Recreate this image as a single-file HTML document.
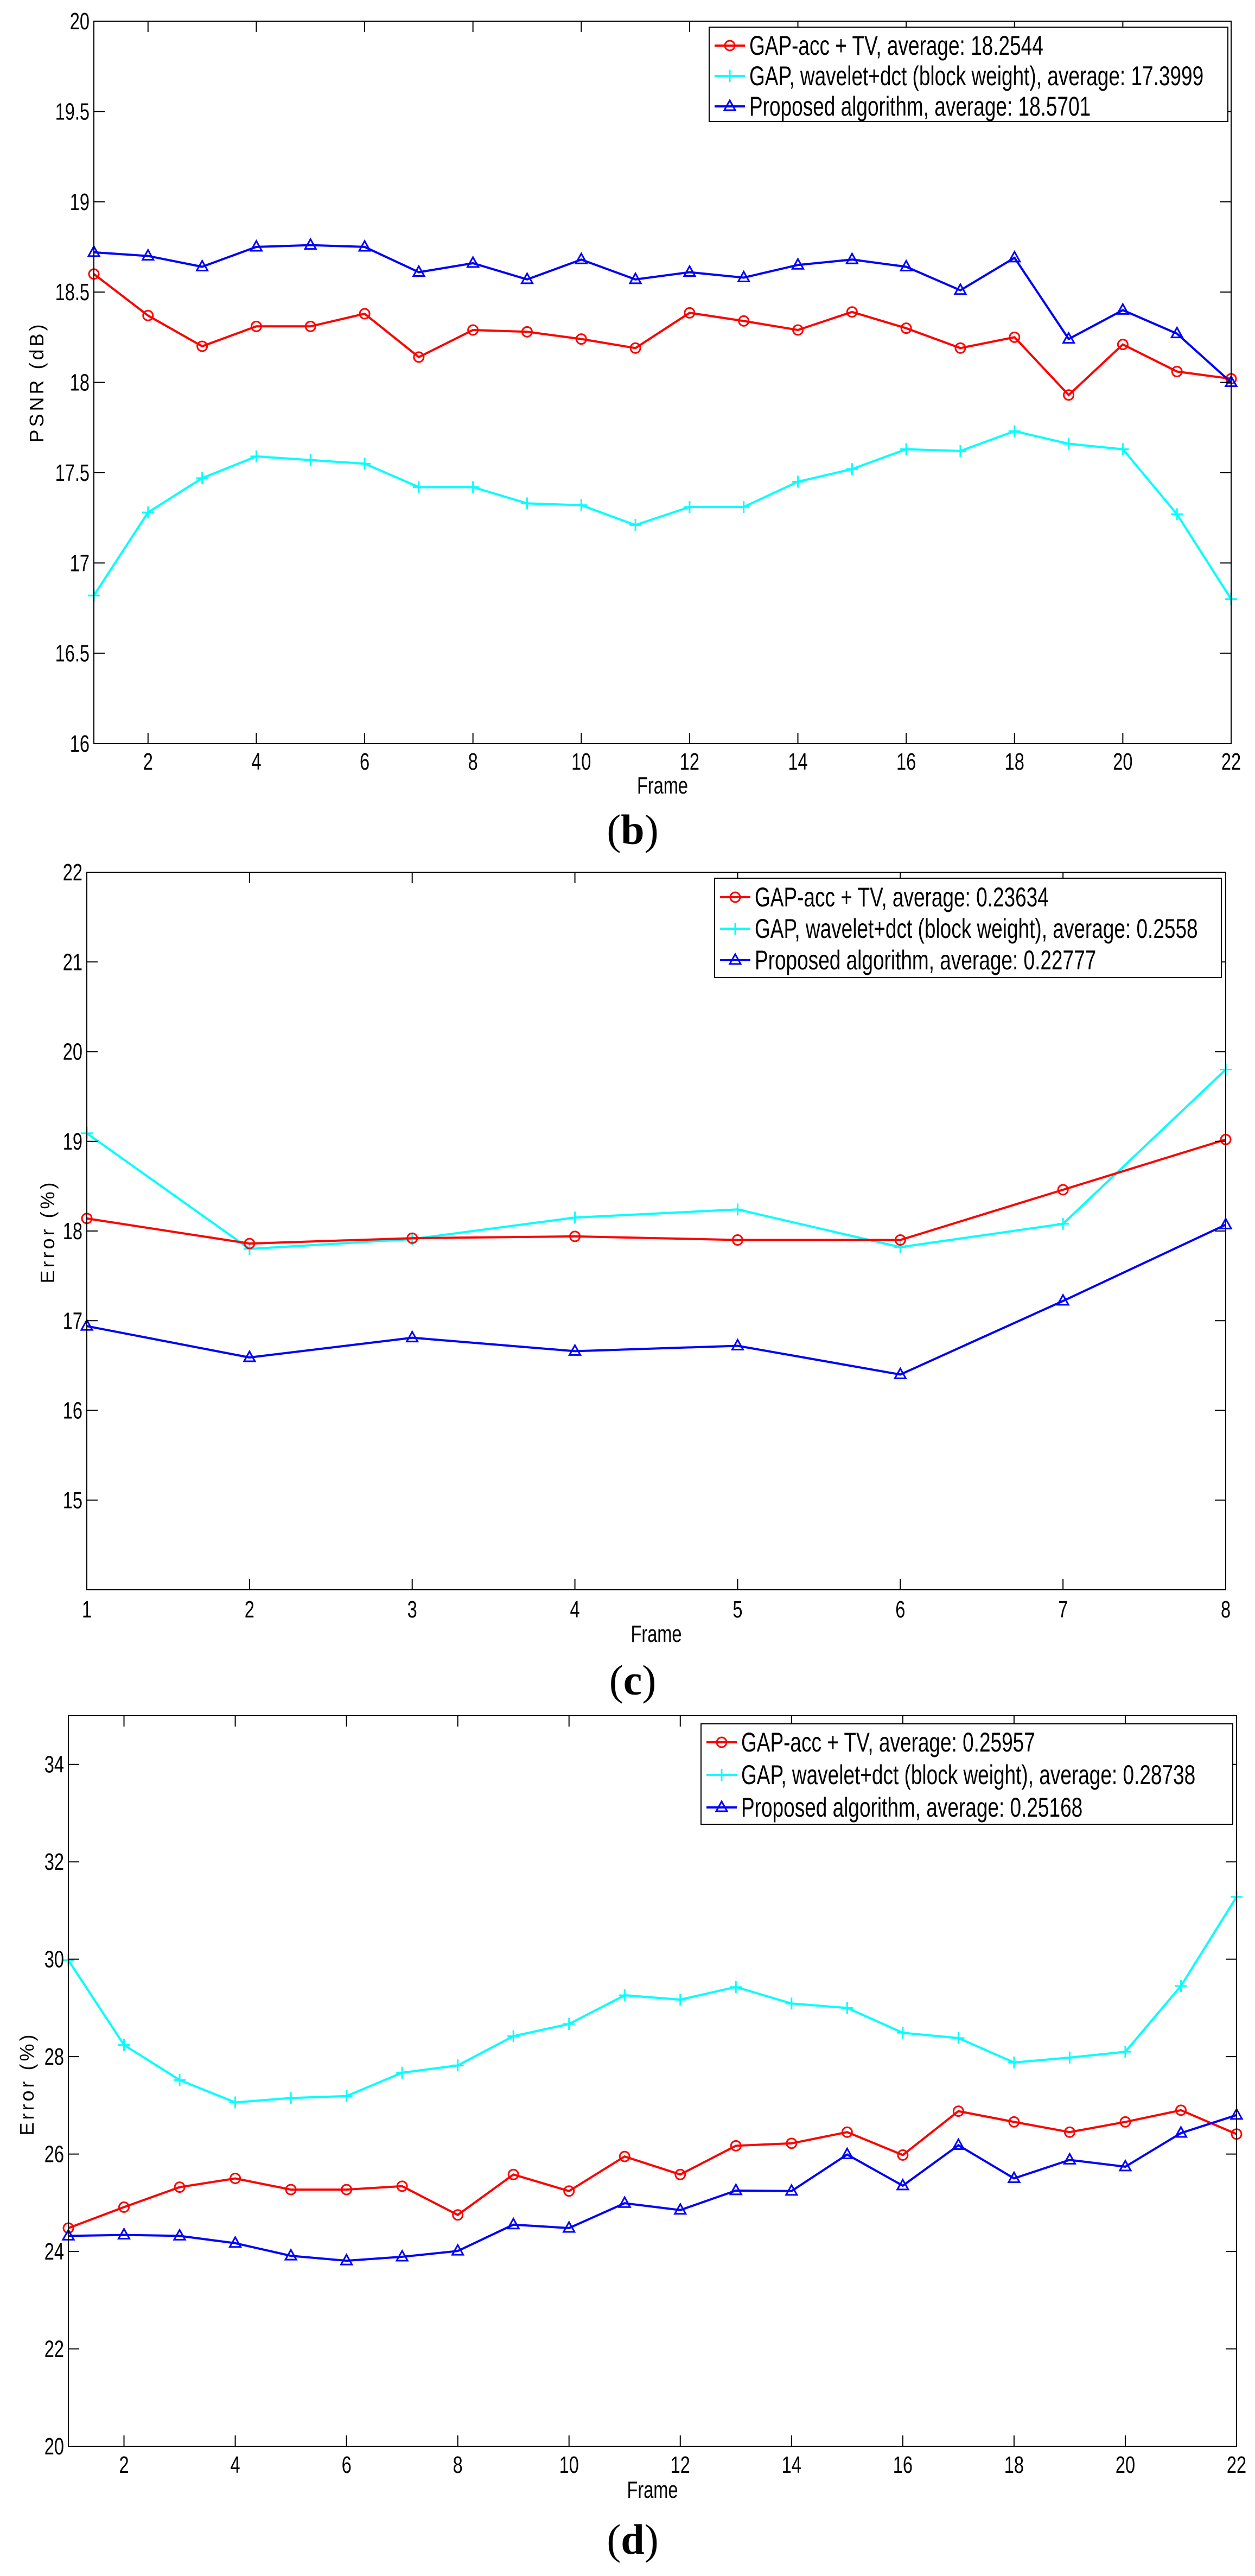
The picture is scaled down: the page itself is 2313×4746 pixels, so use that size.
<!DOCTYPE html>
<html><head><meta charset="utf-8"><style>
html,body{margin:0;padding:0;background:#fff;}
svg{display:block;}
</style></head><body>
<svg id="s" xmlns="http://www.w3.org/2000/svg" width="2313" height="4746" viewBox="0 0 2313 4746"></svg>
<script>
const S=document.getElementById('s');
let out='';
function T(x,y,str,anchor,size,sx){
  out+=`<text transform="translate(${x},${y}) scale(${sx||0.74},1)" text-anchor="${anchor}" font-family="Liberation Sans, sans-serif" font-size="${size}" fill="#000">${str}</text>`;
}
function marker(type,x,y,c){
  if(type=='o') out+=`<circle cx="${x}" cy="${y}" r="9" fill="none" stroke="${c}" stroke-width="3"/>`;
  else if(type=='+') out+=`<path d="M${x-11} ${y}H${x+11}M${x} ${y-11}V${y+11}" stroke="${c}" stroke-width="3"/>`;
  else out+=`<path d="M${x} ${y-11}L${x+10} ${y+7}L${x-10} ${y+7}Z" fill="none" stroke="${c}" stroke-width="3"/>`;
}
function chart(o){
  const {L,R,Tp,B,x0,x1,y0,y1}=o;
  const X=v=>L+(v-x0)/(x1-x0)*(R-L), Y=v=>B-(v-y0)/(y1-y0)*(B-Tp);
  const cols=['#ff0000','#00ffff','#0000ff'],mk=['o','+','^'];
  const order=[1,0,2];
  for(const i of order){
    const d=o.data[i];
    let p=d.map((v,k)=>`${X(o.xs[k]).toFixed(1)},${Y(v).toFixed(1)}`).join(' ');
    out+=`<polyline points="${p}" fill="none" stroke="${cols[i]}" stroke-width="4"/>`;
    d.forEach((v,k)=>marker(mk[i],X(o.xs[k]),Y(v),cols[i]));
  }
  out+=`<rect x="${L}" y="${Tp}" width="${R-L}" height="${B-Tp}" fill="none" stroke="#000" stroke-width="2"/>`;
  for(const t of o.yt){const y=Y(t);
    out+=`<path d="M${L} ${y}h20M${R} ${y}h-20" stroke="#000" stroke-width="2"/>`;
    T(L-8,y+15,String(t),'end',44);}
  for(const t of o.xt){const x=X(t);
    out+=`<path d="M${x} ${B}v-20M${x} ${Tp}v20" stroke="#000" stroke-width="2"/>`;
    T(x,o.tly,String(t),'middle',44);}
  T((L+R)/2,o.fy,'Frame','middle',44);
  out+=`<text transform="translate(${o.ylx},${o.yly}) rotate(-90)" text-anchor="middle" font-family="Liberation Sans, sans-serif" font-size="36" letter-spacing="5" fill="#000">${o.ylabel}</text>`;
  const g=o.leg;
  out+=`<rect x="${g.x}" y="${g.y}" width="${g.w}" height="${g.h}" fill="#fff" stroke="#000" stroke-width="2"/>`;
  g.rows.forEach((r,i)=>{
    const ry=g.ry[i];
    out+=`<path d="M${g.x+10} ${ry}H${g.x+66}" stroke="${cols[i]}" stroke-width="4"/>`;
    marker(mk[i],g.x+38,ry,cols[i]);
    T(g.x+74,ry+17,r,'start',50,0.74);
  });
  out+=`<text x="${o.cap[0]}" y="${o.cap[1]}" text-anchor="middle" font-family="Liberation Serif, serif" font-size="78" fill="#000">(<tspan font-weight="bold">${o.cap[2]}</tspan>)</text>`;
}
const r22=[...Array(22)].map((_,i)=>i+1);
chart({L:173,R:2269,Tp:39,B:1370,x0:1,x1:22,y0:16,y1:20,xs:r22,
 yt:[16,16.5,17,17.5,18,18.5,19,19.5,20],xt:[2,4,6,8,10,12,14,16,18,20,22],
 tly:1418,fy:1462,ylabel:'PSNR (dB)',ylx:80,yly:704,cap:[1166,1555,'b'],
 data:[[18.6,18.37,18.2,18.31,18.31,18.38,18.14,18.29,18.28,18.24,18.19,18.385,18.34,18.29,18.39,18.3,18.19,18.25,17.93,18.21,18.06,18.02],
 [16.82,17.28,17.47,17.59,17.57,17.55,17.42,17.42,17.33,17.32,17.21,17.31,17.31,17.45,17.52,17.63,17.62,17.73,17.66,17.63,17.27,16.8],
 [18.72,18.7,18.64,18.75,18.76,18.75,18.61,18.66,18.57,18.68,18.57,18.61,18.58,18.65,18.68,18.64,18.51,18.69,18.24,18.4,18.27,18.0]],
 leg:{x:1307,y:50,w:956,h:174,ry:[84,140,196],rows:['GAP-acc + TV, average: 18.2544','GAP, wavelet+dct (block weight), average: 17.3999','Proposed algorithm, average: 18.5701']}});
chart({L:160,R:2259,Tp:1607,B:2929,x0:1,x1:8,y0:14,y1:22,xs:[1,2,3,4,5,6,7,8],
 yt:[15,16,17,18,19,20,21,22],xt:[1,2,3,4,5,6,7,8],
 tly:2980,fy:3025,ylabel:'Error (%)',ylx:100,yly:2269,cap:[1166,3122,'c'],
 data:[[18.14,17.86,17.92,17.94,17.9,17.9,18.46,19.02],
 [19.09,17.8,17.91,18.15,18.24,17.82,18.08,19.8],
 [16.94,16.59,16.81,16.66,16.72,16.4,17.22,18.07]],
 leg:{x:1317,y:1618,w:934,h:183,ry:[1653,1711,1769],rows:['GAP-acc + TV, average: 0.23634','GAP, wavelet+dct (block weight), average: 0.2558','Proposed algorithm, average: 0.22777']}});
chart({L:126,R:2279,Tp:3161,B:4507,x0:1,x1:22,y0:20,y1:35,xs:r22,
 yt:[20,22,24,26,28,30,32,34],xt:[2,4,6,8,10,12,14,16,18,20,22],
 tly:4556,fy:4602,ylabel:'Error (%)',ylx:62,yly:3839,cap:[1166,4705,'d'],
 data:[[24.48,24.91,25.32,25.5,25.27,25.27,25.34,24.75,25.58,25.24,25.95,25.58,26.17,26.22,26.45,25.98,26.88,26.66,26.45,26.66,26.9,26.41],
 [29.98,28.24,27.52,27.06,27.15,27.19,27.67,27.82,28.42,28.67,29.26,29.17,29.43,29.09,29.0,28.49,28.38,27.88,27.98,28.1,29.45,31.28],
 [24.32,24.34,24.32,24.17,23.91,23.81,23.89,24.01,24.55,24.48,24.99,24.85,25.25,25.24,25.99,25.35,26.18,25.5,25.88,25.74,26.43,26.8]],
 leg:{x:1292,y:3176,w:980,h:185,ry:[3210,3270,3330],rows:['GAP-acc + TV, average: 0.25957','GAP, wavelet+dct (block weight), average: 0.28738','Proposed algorithm, average: 0.25168']}});
S.innerHTML=out;
</script>
</body></html>
